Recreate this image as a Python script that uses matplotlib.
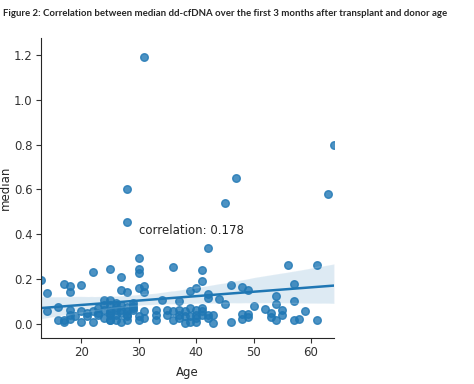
import numpy as np
import matplotlib
matplotlib.use("Agg")
import matplotlib.pyplot as plt
import seaborn as sns

# donor age vs median dd-cfDNA
age = [31, 28, 28, 47, 45, 42, 64, 63,
       13, 14, 14, 17, 18, 18, 20, 22, 25, 27, 27, 28, 30, 30, 30, 30, 31, 31,
       34, 36, 37, 39, 40, 41, 41, 42, 42, 44, 45, 46, 48, 49, 50, 52, 54, 54,
       56, 57, 57, 61, 59, 55, 55, 53, 53, 54, 57, 58, 61, 48, 48, 49, 49, 46,
       43, 43,
       37, 38, 39, 40, 41, 41, 42, 38, 39, 40, 40, 41, 38, 39, 40, 42,
       26, 26, 27, 28, 29, 26, 27, 28, 29, 25, 26, 27, 28, 28, 25, 26, 27, 28,
       30, 30, 31, 31, 33, 33, 33, 35, 35, 36, 36, 37, 37, 24, 25, 24, 25, 24,
       25, 25, 24, 25, 29, 29,
       16, 16, 17, 17, 18, 18, 18, 19, 20, 20, 21, 21, 22, 23, 23, 23,
       22]
median = [1.19, 0.60, 0.455, 0.65, 0.54, 0.34, 0.80, 0.58,
          0.195, 0.137, 0.055, 0.179, 0.171, 0.141, 0.174, 0.23, 0.244, 0.207,
          0.152, 0.14, 0.293, 0.244, 0.226, 0.162, 0.17, 0.143,
          0.108, 0.253, 0.10, 0.147, 0.16, 0.24, 0.193, 0.134, 0.115, 0.112,
          0.089, 0.174, 0.165, 0.153, 0.08, 0.068, 0.125, 0.089,
          0.263, 0.178, 0.104, 0.263, 0.059, 0.06, 0.041, 0.048, 0.03, 0.015,
          0.015, 0.022, 0.015, 0.043, 0.022, 0.043, 0.029, 0.008,
          0.04, 0.004,
          0.062, 0.055, 0.07, 0.062, 0.07, 0.055, 0.04, 0.033, 0.033, 0.04,
          0.025, 0.04, 0.003, 0.01, 0.01, 0.025,
          0.092, 0.077, 0.085, 0.077, 0.092, 0.062, 0.062, 0.055, 0.062, 0.048,
          0.04, 0.048, 0.033, 0.04, 0.018, 0.018, 0.01, 0.018,
          0.033, 0.018, 0.055, 0.025, 0.062, 0.04, 0.018, 0.062, 0.04, 0.055,
          0.018, 0.04, 0.025, 0.107, 0.107, 0.085, 0.085, 0.062,
          0.055, 0.04, 0.025, 0.018, 0.08, 0.07,
          0.075, 0.018, 0.008, 0.018, 0.062, 0.04, 0.022, 0.033,
          0.01, 0.055, 0.033, 0.048, 0.01, 0.07, 0.048, 0.04,
          0.055]
corr_text = "correlation: 0.178"

sns.set_style("ticks")
fig = plt.figure(figsize=(4.74, 3.84), dpi=100)
ax = fig.add_axes([0.0865, 0.12, 0.618, 0.781])

sns.regplot(x=np.array(age), y=np.array(median), ax=ax, truncate=True, seed=3,
            scatter_kws={"s": 30}, line_kws={"lw": 1.8})
sns.despine(ax=ax)

ax.set_xlim(13, 64)
ax.set_ylim(-0.063, 1.276)
ax.set_xticks([20, 30, 40, 50, 60])
ax.set_yticks([0.0, 0.2, 0.4, 0.6, 0.8, 1.0, 1.2])
ax.tick_params(labelsize=8.5, length=3.5, pad=2.5, colors="#333333")
ax.set_xlabel("Age", fontsize=8.5)
ax.set_ylabel("median", fontsize=8.5)
ax.xaxis.set_label_coords(0.5, -0.095)
ax.yaxis.set_label_coords(-0.1, 0.5)
ax.text(30, 0.4, corr_text, fontsize=8.5, color="#222222")

fig.text(0.006, 0.965, "Figure 2: Correlation between median dd-cfDNA over the first 3 months after transplant and donor age",
         fontsize=6.9, fontweight="bold", family="Lato", va="center")

fig.savefig("out.png", dpi=100)
